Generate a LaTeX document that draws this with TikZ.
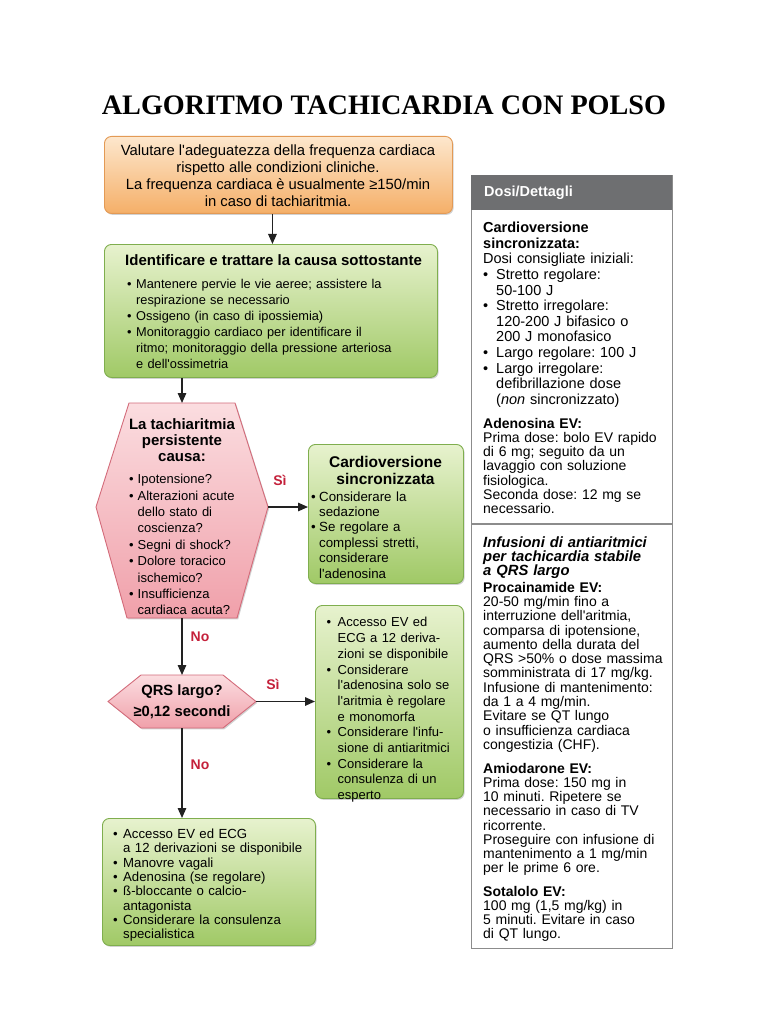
\documentclass[tikz,border=0pt]{standalone}
\usepackage{fontspec}
\setmainfont{Liberation Sans}[Ligatures=TeXOff]
\newfontfamily\titlefont{Liberation Serif}
\usetikzlibrary{arrows.meta,shadows}
\frenchspacing
\definecolor{orTop}{HTML}{FDE7CD}
\definecolor{orBot}{HTML}{F5AF68}
\definecolor{orLine}{HTML}{E39A55}
\definecolor{grTop}{HTML}{E7F2CE}
\definecolor{grBot}{HTML}{A0C966}
\definecolor{grLine}{HTML}{7FAE4E}
\definecolor{pkTop}{HTML}{FBDDE0}
\definecolor{pkBot}{HTML}{F0A0AA}
\definecolor{pkLine}{HTML}{D36B7A}
\definecolor{redlab}{HTML}{C4203A}
\definecolor{hdr}{HTML}{6E6F71}
\definecolor{pnl}{HTML}{8C8C8C}
\definecolor{arrc}{HTML}{222222}
\newcommand\bul[1][9pt]{\par\hangindent=#1\hangafter=1\noindent\makebox[#1][l]{\textbullet}\ignorespaces}
\tikzset{
  shd/.style={drop shadow={shadow xshift=1.2pt, shadow yshift=-1.4pt, opacity=0.3, fill=black!60}},
  box/.style={draw, line width=0.9pt, rounded corners=7pt, anchor=north west, inner sep=0, shd},
  obox/.style={box, draw=orLine, top color=orTop, bottom color=orBot},
  gbox/.style={box, draw=grLine, top color=grTop, bottom color=grBot},
  hexa/.style={draw=pkLine, line width=0.9pt, top color=pkTop, bottom color=pkBot, shd},
  txt/.style={inner sep=0, anchor=north west, align=left, font=\fontsize{13}{15.5}\selectfont},
  ttl/.style={inner sep=0, anchor=north, align=center, font=\bfseries\fontsize{15}{16}\selectfont},
  lab/.style={text=redlab, font=\bfseries\fontsize{14}{15}\selectfont, inner sep=0},
  flow/.style={draw=arrc, line width=1.5pt, -{Triangle[length=10pt,width=8.5pt]}},
}
\begin{document}
\begin{tikzpicture}[x=1pt,y=-1pt]
\useasboundingbox (0,0) rectangle (768,1024);
% title
\node[inner sep=0] (title) at (384,105) {\titlefont\bfseries\fontsize{28.2}{30}\selectfont ALGORITMO TACHICARDIA CON POLSO};
% orange box
\node[obox, minimum width=348pt, minimum height=77pt] (ob) at (104,136) {};
\node[txt, anchor=north, align=center, font=\fontsize{14.8}{16.8}\selectfont] (obt) at (278,145)
  {Valutare l'adeguatezza della frequenza cardiaca\\rispetto alle condizioni cliniche.\\La frequenza cardiaca è usualmente ≥150/min\\in caso di tachiaritmia.};
% green box 1
\node[gbox, minimum width=333pt, minimum height=133pt] (g1) at (104,244) {};
\node[ttl, anchor=base west] (g1t) at (125,265) {Identificare e trattare la causa sottostante};
\node[txt, text width=305pt, font=\fontsize{12.8}{16}\selectfont] (g1b) at (127,272)
  {\bul Mantenere pervie le vie aeree; assistere la\newline respirazione se necessario
   \bul Ossigeno (in caso di ipossiemia)
   \bul Monitoraggio cardiaco per identificare il\newline ritmo; monitoraggio della pressione arteriosa\newline e dell'ossimetria\par};
% hexagon 1
\coordinate (h1n) at (182,403);
\coordinate (h1s) at (182,618);
\coordinate (h1e) at (268,507);
\path[hexa] (129,403) -- (235,403) -- (268,507) -- (237,618) -- (127,618) -- (96,507) -- cycle;
\node[ttl] (h1t) at (182,418) {La tachiaritmia\\persistente\\causa:};
\node[txt, text width=130pt, font=\fontsize{13}{16.4}\selectfont] (h1b) at (129,467)
  {\bul[8.5pt] Ipotensione?
   \bul[8.5pt] Alterazioni acute\newline dello stato di\newline coscienza?
   \bul[8.5pt] Segni di shock?
   \bul[8.5pt] Dolore toracico\newline ischemico?
   \bul[8.5pt] Insufficienza\newline cardiaca acuta?\par};
% cardioversion box
\node[gbox, minimum width=155pt, minimum height=139pt] (cb) at (308,444) {};
\node[ttl, font=\bfseries\fontsize{15.5}{17.5}\selectfont] (cbt) at (385.5,456) {Cardioversione\\sincronizzata};
\node[txt, text width=140pt, font=\fontsize{13.3}{15.4}\selectfont] (cbb) at (311,485.5)
  {\bul[8pt] Considerare la\newline sedazione
   \bul[8pt] Se regolare a\newline complessi stretti,\newline considerare\newline l'adenosina\par};
\node[lab] (si1) at (280,480) {Sì};
\draw[flow] (h1e) -- (h1e -| cb.west);
% QRS hexagon
\coordinate (h2n) at (182,675);
\coordinate (h2s) at (182,728);
\coordinate (h2e) at (256,701.5);
\path[hexa] (141,675) -- (223,675) -- (256,701.5) -- (223,728) -- (141,728) -- (108,701.5) -- cycle;
\node[ttl, font=\bfseries\fontsize{14.8}{21}\selectfont] (h2t) at (182,685) {QRS largo?\\≥0,12 secondi};
\node[lab] (no1) at (200,637) {No};
\draw[flow] (h1s) -- (h2n);
% green box 2
\node[gbox, minimum width=148pt, minimum height=193pt] (g2) at (315,605) {};
\node[txt, text width=135pt, font=\fontsize{13}{15.7}\selectfont] (g2b) at (326.5,611)
  {\bul[11pt] Accesso EV ed\newline ECG a 12 deriva-\newline zioni se disponibile
   \bul[11pt] Considerare\newline l'adenosina solo se\newline l'aritmia è regolare\newline e monomorfa
   \bul[11pt] Considerare l'infu-\newline sione di antiaritmici
   \bul[11pt] Considerare la\newline consulenza di un\newline esperto\par};
\node[lab] (si2) at (273,684) {Sì};
\draw[flow] (h2e) -- (h2e -| g2.west);
% bottom box
\node[gbox, minimum width=213pt, minimum height=127pt] (bb) at (102,818) {};
\node[txt, text width=200pt, font=\fontsize{13.2}{14.3}\selectfont] (bbb) at (113,824)
  {\bul[10pt] Accesso EV ed ECG\newline a 12 derivazioni se disponibile
   \bul[10pt] Manovre vagali
   \bul[10pt] Adenosina (se regolare)
   \bul[10pt] ß-bloccante o calcio-\newline antagonista
   \bul[10pt] Considerare la consulenza\newline specialistica\par};
\node[lab] (no2) at (200,765) {No};
\draw[flow] (h2s) -- (h2s |- bb.north);
% arrows top
\draw[flow] ([xshift=-6pt]ob.south) -- ([xshift=-6pt]ob.south |- g1.north);
\draw[flow] (g1.south -| h1n) -- (h1n);
% right panel
\node[fill=white, draw=pnl, line width=1pt, minimum width=201pt, minimum height=773pt, anchor=north west, inner sep=0] (panel) at (471,175) {};
\node[fill=hdr, minimum width=201pt, minimum height=35pt, anchor=north west, inner sep=0] (phdr) at (471,175) {};
\node[anchor=west, text=white, font=\bfseries\fontsize{14.5}{16}\selectfont, inner sep=0] (phdrt) at (484,193) {Dosi/Dettagli};
\draw[pnl, line width=2.5pt] (471,524) -- (672,524);
\node[txt, text width=185pt, font=\fontsize{14.5}{15.6}\selectfont] (p1) at (483,222)
  {\textbf{Cardioversione}\newline\textbf{sincronizzata:}\newline Dosi consigliate iniziali:
   \bul[13pt] Stretto regolare:\newline 50-100 J
   \bul[13pt] Stretto irregolare:\newline 120-200 J bifasico o\newline 200 J monofasico
   \bul[13pt] Largo regolare: 100 J
   \bul[13pt] Largo irregolare:\newline defibrillazione dose\newline (\textit{non} sincronizzato)\par};
\node[txt, text width=185pt, font=\fontsize{14}{14.2}\selectfont] (p2) at (483,418)
  {\textbf{Adenosina EV:}\newline Prima dose: bolo EV rapido\newline di 6 mg; seguito da un\newline lavaggio con soluzione\newline fisiologica.\newline Seconda dose: 12 mg se\newline necessario.};
\node[txt, text width=190pt, font=\bfseries\itshape\fontsize{14.8}{14}\selectfont] (p3) at (483,537)
  {Infusioni di antiaritmici\newline per tachicardia stabile\newline a QRS largo};
\node[txt, text width=190pt, font=\fontsize{14}{14.27}\selectfont] (p4) at (483,582)
  {\textbf{Procainamide EV:}\newline 20-50 mg/min fino a\newline interruzione dell'aritmia,\newline comparsa di ipotensione,\newline aumento della durata del\newline QRS >50\% o dose massima\newline somministrata di 17 mg/kg.\newline Infusione di mantenimento:\newline da 1 a 4 mg/min.\newline Evitare se QT lungo\newline o insufficienza cardiaca\newline congestizia (CHF).};
\node[txt, text width=190pt, font=\fontsize{14}{14.2}\selectfont] (p5) at (483,763)
  {\textbf{Amiodarone EV:}\newline Prima dose: 150 mg in\newline 10 minuti. Ripetere se\newline necessario in caso di TV\newline ricorrente.\newline Proseguire con infusione di\newline mantenimento a 1 mg/min\newline per le prime 6 ore.};
\node[txt, text width=190pt, font=\fontsize{14}{14.2}\selectfont] (p6) at (483,886)
  {\textbf{Sotalolo EV:}\newline 100 mg (1,5 mg/kg) in\newline 5 minuti. Evitare in caso\newline di QT lungo.};
\end{tikzpicture}
\end{document}
